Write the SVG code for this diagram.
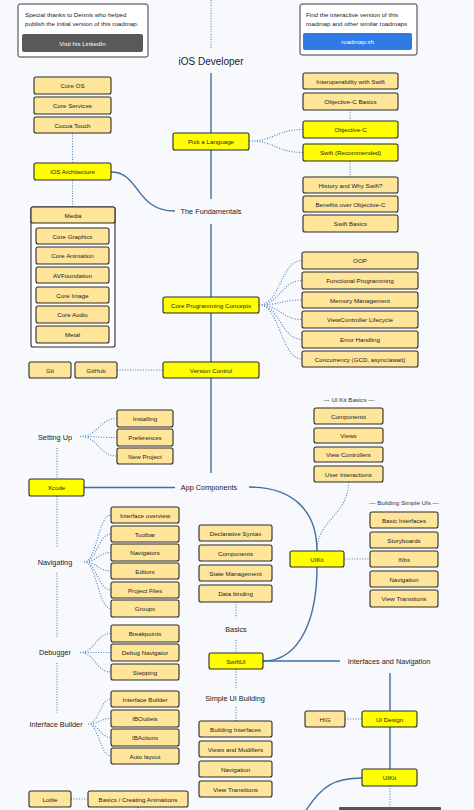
<svg xmlns="http://www.w3.org/2000/svg" width="474" height="810" viewBox="0 0 474 810">
<style>
.bg{fill:#f7f9fc}
.b rect{fill:#ffe599;stroke:#2a2a2a;stroke-width:1.1}
.y rect{fill:#ffff00;stroke:#2a2a2a;stroke-width:1.1}
text{font-family:"Liberation Sans",Arial,sans-serif;fill:#222}
.b text,.y text{font-size:6.2px;text-anchor:middle;dominant-baseline:central}
.h{font-size:7.3px;text-anchor:middle;dominant-baseline:central}
.s{font-size:6.2px;text-anchor:middle;dominant-baseline:central;fill:#333}
.sol{fill:none;stroke:#3f6fa3;stroke-width:1.4}
.dot{fill:none;stroke:#4f80b5;stroke-width:1.1;stroke-dasharray:1 1.6}
.note{font-size:6.2px}
</style>
<rect class="bg" x="0" y="0" width="474" height="810"/>

<g id="connectors">
<path class="dot" d="M211,0V48"/>
<path class="sol" d="M211,73V199"/>
<path class="sol" d="M211,224V473"/>
<path class="sol" d="M111,172C140,172 135,211 175,211"/>
<path class="dot" d="M72.5,133V163M72.5,180V207"/>
<path class="dot" d="M117,370H163"/>
<path class="dot" d="M249,141C276,141 276,129.5 303,129.5M249,141C276,141 276,152.5 303,152.5"/>
<path class="dot" d="M350,110V121M350,161V177"/>
<path class="dot" d="M259,305C280,305 281,260.5 302,260.5M259,305C280,305 281,280.5 302,280.5M259,305C280,305 281,300 302,300M259,305C280,305 281,319.5 302,319.5M259,305C280,305 281,339.5 302,339.5M259,305C280,305 281,359 302,359"/>
<path class="sol" d="M84,487.5H175"/>
<path class="sol" d="M249,487C292,487 317,510 317,551"/>
<path class="sol" d="M317,567C317,615 302,661 263,661"/>
<path class="sol" d="M263,661H340"/>
<path class="sol" d="M390,673V711M390,727V769"/>
<path class="sol" d="M305,812C322,785 335,778 362,778"/>
<path class="dot" d="M348.5,482C348.5,515 317,520 317,551"/>
<path class="dot" d="M344,559H370"/>
<path class="dot" d="M80,436.5C98,436.5 99,418.5 117,418.5M80,436.5C98,436.5 99,437.5 117,437.5M80,436.5C98,436.5 99,456 117,456"/>
<path class="dot" d="M84,562C97,562 98,515 111,515M84,562C97,562 98,534 111,534M84,562C97,562 98,552.5 111,552.5M84,562C97,562 98,571 111,571M84,562C97,562 98,590 111,590M84,562C97,562 98,608.5 111,608.5"/>
<path class="dot" d="M80,652.5C95,652.5 96,633.5 111,633.5M80,652.5C95,652.5 96,652.5 111,652.5M80,652.5C95,652.5 96,672 111,672"/>
<path class="dot" d="M88,724C99,724 100,699 111,699M88,724C99,724 100,718.5 111,718.5M88,724C99,724 100,737.5 111,737.5M88,724C99,724 100,756 111,756"/>
<path class="dot" d="M57,448V479M57,496V547M57,573V638M57,663V713"/>
<path class="dot" d="M236,602V618M236,640V653M236,669V689M236,707V721"/>
<path class="dot" d="M345,719H362"/>
<path class="dot" d="M390,786V810"/>
<path class="dot" d="M71,799H88"/>
<path class="dot" d="M138,807V810"/>
</g>

<g id="intro-left">
<rect x="18" y="4" width="130" height="53" rx="2" fill="#fff" stroke="#3a3a3a" stroke-width="1"/>
<text class="note" x="25" y="17">Special thanks to Dennis who helped</text>
<text class="note" x="25" y="26">publish the initial version of this roadmap.</text>
<rect x="22" y="34" width="121" height="18" rx="2" fill="#595959"/>
<text class="s" x="82.5" y="43" style="fill:#fff">Visit his LinkedIn</text>
</g>
<g id="intro-right">
<rect x="300" y="4" width="117" height="51" rx="2" fill="#fff" stroke="#3a3a3a" stroke-width="1"/>
<text class="note" x="306" y="17">Find the interactive version of this</text>
<text class="note" x="306" y="26">roadmap and other similar roadmaps</text>
<rect x="303" y="33" width="109" height="17" rx="2" fill="#2f7be6"/>
<text class="s" x="357.5" y="41.5" style="fill:#fff">roadmap.sh</text>
</g>

<g id="titles">
<text x="211" y="61" style="font-size:10px;text-anchor:middle;dominant-baseline:central">iOS Developer</text>
<text class="h" x="211" y="211">The Fundamentals</text>
<text class="h" x="209" y="487">App Components</text>
<text class="h" x="55" y="437">Setting Up</text>
<text class="h" x="55" y="562">Navigating</text>
<text class="h" x="55" y="652">Debugger</text>
<text class="h" x="56" y="724">Interface Builder</text>
<text class="s" x="349" y="399">— UI Kit Basics —</text>
<text class="s" x="404" y="502">— Building Simple UIs —</text>
<text class="h" x="236" y="629">Basics</text>
<text class="h" x="235" y="698">Simple UI Building</text>
<text class="h" x="389" y="661">Interfaces and Navigation</text>
</g>

<g id="core-os" class="b"><rect x="34" y="77" width="77" height="17" rx="2"/><text x="72.5" y="85.5">Core OS</text></g>
<g id="core-services" class="b"><rect x="34" y="97" width="77" height="17" rx="2"/><text x="72.5" y="105.5">Core Services</text></g>
<g id="cocoa-touch" class="b"><rect x="34" y="117" width="77" height="16" rx="2"/><text x="72.5" y="125">Cocoa Touch</text></g>
<g id="ios-architecture" class="y"><rect x="34" y="163" width="77" height="17" rx="2"/><text x="72.5" y="171.5">iOS Architecture</text></g>

<g id="media">
<rect x="31" y="207" width="84" height="140" rx="2" fill="#fff" stroke="#2a2a2a" stroke-width="1.1"/>
<g class="b"><rect x="31" y="207" width="84" height="16" rx="2"/><text x="73" y="215">Media</text></g>
</g>
<g id="core-graphics" class="b"><rect x="36" y="228" width="73" height="16" rx="2"/><text x="72.5" y="236">Core Graphics</text></g>
<g id="core-animation" class="b"><rect x="36" y="247" width="73" height="17" rx="2"/><text x="72.5" y="255.5">Core Animation</text></g>
<g id="avfoundation" class="b"><rect x="36" y="267" width="73" height="16" rx="2"/><text x="72.5" y="275">AVFoundation</text></g>
<g id="core-image" class="b"><rect x="36" y="287" width="73" height="16" rx="2"/><text x="72.5" y="295">Core Image</text></g>
<g id="core-audio" class="b"><rect x="36" y="306" width="73" height="17" rx="2"/><text x="72.5" y="314.5">Core Audio</text></g>
<g id="metal" class="b"><rect x="36" y="326" width="73" height="17" rx="2"/><text x="72.5" y="334.5">Metal</text></g>

<g id="git" class="b"><rect x="29" y="362" width="42" height="16" rx="2"/><text x="50" y="370">Git</text></g>
<g id="github" class="b"><rect x="75" y="362" width="42" height="16" rx="2"/><text x="96" y="370">GitHub</text></g>

<g id="pick-a-language" class="y"><rect x="173" y="133" width="76" height="17" rx="2"/><text x="211" y="141.5">Pick a Language</text></g>
<g id="core-programming-concepts" class="y"><rect x="163" y="297" width="96" height="16" rx="2"/><text x="211" y="305">Core Programming Concepts</text></g>
<g id="version-control" class="y"><rect x="163" y="362" width="96" height="16" rx="2"/><text x="211" y="370">Version Control</text></g>

<g id="interop" class="b"><rect x="303" y="73" width="95" height="16" rx="2"/><text x="350.5" y="81">Interoperability with Swift</text></g>
<g id="objc-basics" class="b"><rect x="303" y="93" width="95" height="17" rx="2"/><text x="350.5" y="101.5">Objective-C Basics</text></g>
<g id="objc" class="y"><rect x="303" y="121" width="95" height="17" rx="2"/><text x="350.5" y="129.5">Objective-C</text></g>
<g id="swift" class="y"><rect x="303" y="144" width="95" height="17" rx="2"/><text x="350.5" y="152.5">Swift (Recommended)</text></g>
<g id="history" class="b"><rect x="303" y="177" width="95" height="16" rx="2"/><text x="350.5" y="185">History and Why Swift?</text></g>
<g id="benefits" class="b"><rect x="303" y="196" width="95" height="16" rx="2"/><text x="350.5" y="204">Benefits over Objective-C</text></g>
<g id="swift-basics" class="b"><rect x="303" y="215" width="95" height="17" rx="2"/><text x="350.5" y="223.5">Swift Basics</text></g>

<g id="oop" class="b"><rect x="302" y="252" width="116" height="17" rx="2"/><text x="360" y="260.5">OOP</text></g>
<g id="functional" class="b"><rect x="302" y="272" width="116" height="17" rx="2"/><text x="360" y="280.5">Functional Programming</text></g>
<g id="memory" class="b"><rect x="302" y="292" width="116" height="16" rx="2"/><text x="360" y="300">Memory Management</text></g>
<g id="vc-lifecycle" class="b"><rect x="302" y="311" width="116" height="17" rx="2"/><text x="360" y="319.5">ViewController Lifecycle</text></g>
<g id="error-handling" class="b"><rect x="302" y="331" width="116" height="17" rx="2"/><text x="360" y="339.5">Error Handling</text></g>
<g id="concurrency" class="b"><rect x="302" y="351" width="116" height="16" rx="2"/><text x="360" y="359">Concurrency (GCD, async/await)</text></g>

<g id="uk-components" class="b"><rect x="314" y="408" width="69" height="16" rx="2"/><text x="348.5" y="416">Components</text></g>
<g id="uk-views" class="b"><rect x="314" y="428" width="69" height="15" rx="2"/><text x="348.5" y="435.5">Views</text></g>
<g id="uk-vcs" class="b"><rect x="314" y="447" width="69" height="15" rx="2"/><text x="348.5" y="454.5">View Controllers</text></g>
<g id="uk-interactions" class="b"><rect x="314" y="466" width="69" height="16" rx="2"/><text x="348.5" y="474">User Interactions</text></g>
<g id="uikit" class="y"><rect x="290" y="551" width="54" height="16" rx="2"/><text x="317" y="559">UIKit</text></g>

<g id="basic-interfaces" class="b"><rect x="370" y="512" width="68" height="16" rx="2"/><text x="404" y="520">Basic Interfaces</text></g>
<g id="storyboards" class="b"><rect x="370" y="532" width="68" height="16" rx="2"/><text x="404" y="540">Storyboards</text></g>
<g id="xibs" class="b"><rect x="370" y="551" width="68" height="16" rx="2"/><text x="404" y="559">Xibs</text></g>
<g id="uk-navigation" class="b"><rect x="370" y="571" width="68" height="16" rx="2"/><text x="404" y="579">Navigation</text></g>
<g id="uk-transitions" class="b"><rect x="370" y="590" width="68" height="17" rx="2"/><text x="404" y="598.5">View Transitions</text></g>

<g id="xcode" class="y"><rect x="29" y="479" width="55" height="17" rx="2"/><text x="56.5" y="487.5">Xcode</text></g>
<g id="installing" class="b"><rect x="117" y="410" width="56" height="17" rx="2"/><text x="145" y="418.5">Installing</text></g>
<g id="preferences" class="b"><rect x="117" y="429" width="56" height="17" rx="2"/><text x="145" y="437.5">Preferences</text></g>
<g id="new-project" class="b"><rect x="117" y="448" width="56" height="16" rx="2"/><text x="145" y="456">New Project</text></g>

<g id="interface-overview" class="b"><rect x="111" y="507" width="68" height="16" rx="2"/><text x="145" y="515">Interface overview</text></g>
<g id="toolbar" class="b"><rect x="111" y="526" width="68" height="16" rx="2"/><text x="145" y="534">Toolbar</text></g>
<g id="navigators" class="b"><rect x="111" y="544" width="68" height="17" rx="2"/><text x="145" y="552.5">Navigators</text></g>
<g id="editors" class="b"><rect x="111" y="563" width="68" height="16" rx="2"/><text x="145" y="571">Editors</text></g>
<g id="project-files" class="b"><rect x="111" y="582" width="68" height="16" rx="2"/><text x="145" y="590">Project Files</text></g>
<g id="groups" class="b"><rect x="111" y="600" width="68" height="17" rx="2"/><text x="145" y="608.5">Groups</text></g>

<g id="breakpoints" class="b"><rect x="111" y="625" width="68" height="17" rx="2"/><text x="145" y="633.5">Breakpoints</text></g>
<g id="debug-navigator" class="b"><rect x="111" y="644" width="68" height="17" rx="2"/><text x="145" y="652.5">Debug Navigator</text></g>
<g id="stepping" class="b"><rect x="111" y="664" width="68" height="16" rx="2"/><text x="145" y="672">Stepping</text></g>

<g id="ib-node" class="b"><rect x="111" y="691" width="68" height="16" rx="2"/><text x="145" y="699">Interface Builder</text></g>
<g id="iboutlets" class="b"><rect x="111" y="710" width="68" height="17" rx="2"/><text x="145" y="718.5">IBOutlets</text></g>
<g id="ibactions" class="b"><rect x="111" y="729" width="68" height="17" rx="2"/><text x="145" y="737.5">IBActions</text></g>
<g id="auto-layout" class="b"><rect x="111" y="748" width="68" height="16" rx="2"/><text x="145" y="756">Auto layout</text></g>

<g id="lottie" class="b"><rect x="29" y="791" width="42" height="16" rx="2"/><text x="50" y="799">Lottie</text></g>
<g id="lottie-basics" class="b"><rect x="88" y="791" width="100" height="16" rx="2"/><text x="138" y="799">Basics / Creating Animations</text></g>

<g id="declarative" class="b"><rect x="199" y="525" width="73" height="16" rx="2"/><text x="235.5" y="533">Declarative Syntax</text></g>
<g id="sui-components" class="b"><rect x="199" y="545" width="73" height="16" rx="2"/><text x="235.5" y="553">Components</text></g>
<g id="state" class="b"><rect x="199" y="565" width="73" height="16" rx="2"/><text x="235.5" y="573">State Management</text></g>
<g id="data-binding" class="b"><rect x="199" y="585" width="73" height="17" rx="2"/><text x="235.5" y="593.5">Data binding</text></g>
<g id="swiftui" class="y"><rect x="209" y="653" width="54" height="16" rx="2"/><text x="236" y="661">SwiftUI</text></g>
<g id="building-interfaces" class="b"><rect x="199" y="721" width="73" height="16" rx="2"/><text x="235.5" y="729">Building Interfaces</text></g>
<g id="views-modifiers" class="b"><rect x="199" y="741" width="73" height="16" rx="2"/><text x="235.5" y="749">Views and Modifiers</text></g>
<g id="sui-navigation" class="b"><rect x="199" y="761" width="73" height="16" rx="2"/><text x="235.5" y="769">Navigation</text></g>
<g id="sui-transitions" class="b"><rect x="199" y="781" width="73" height="16" rx="2"/><text x="235.5" y="789">View Transitions</text></g>

<g id="hig" class="b"><rect x="305" y="711" width="40" height="16" rx="2"/><text x="325" y="719">HIG</text></g>
<g id="ui-design" class="y"><rect x="362" y="711" width="55" height="16" rx="2"/><text x="389.5" y="719">UI Design</text></g>
<g id="uikit-2" class="y"><rect x="362" y="769" width="55" height="17" rx="2"/><text x="389.5" y="777.5">UIKit</text></g>
<g id="next-node"><rect x="339" y="807" width="102" height="8" rx="1" fill="#555"/></g>
</svg>
